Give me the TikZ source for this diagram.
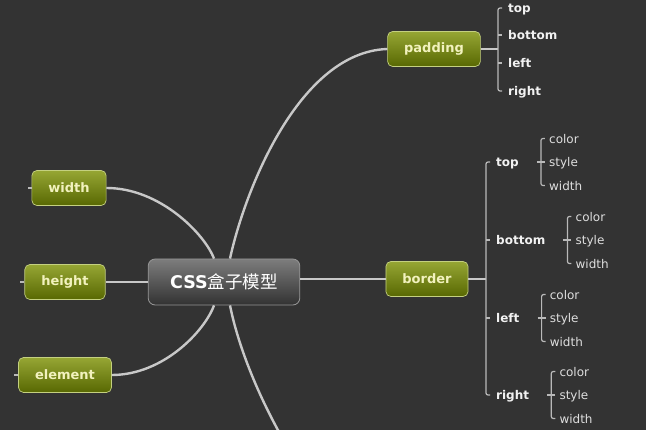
\documentclass[tikz,border=0pt]{standalone}
\usepackage{fontspec}
\setmainfont{DejaVu Sans}
\newfontfamily\cjk{Noto Sans CJK SC}
\usetikzlibrary{calc}

\definecolor{bgdark}{RGB}{51,51,51}
\definecolor{linkgray}{RGB}{200,200,200}
\definecolor{treegray}{RGB}{185,185,185}
\definecolor{leafgray}{RGB}{222,222,222}
\definecolor{olivetop}{RGB}{150,166,52}
\definecolor{olivebot}{RGB}{88,104,2}
\definecolor{olivebd}{RGB}{196,208,128}
\definecolor{olivetxt}{RGB}{242,242,190}
\definecolor{hubtop}{RGB}{125,125,125}
\definecolor{hubmid}{RGB}{72,72,72}
\definecolor{hubbot}{RGB}{50,50,50}
\definecolor{hubbd}{RGB}{150,150,150}

\tikzset{
  topic/.style={rounded corners=5pt, draw=olivebd, line width=0.7pt,
    top color=olivetop, bottom color=olivebot, text=olivetxt,
    font=\bfseries\fontsize{13}{15}\selectfont, minimum height=35pt, inner xsep=16.5pt},
  hub/.style={rounded corners=7pt, draw=hubbd, line width=0.8pt,
    top color=hubtop, middle color=hubmid, bottom color=hubbot, text=white,
    font=\fontsize{17.5}{21}\selectfont, minimum height=46pt, inner xsep=22pt},
  branch/.style={anchor=west, inner xsep=6pt, inner ysep=0pt, text height=11.5pt, text depth=1.5pt,
    text=white!95!black, font=\bfseries\fontsize{12}{14}\selectfont},
  leaf/.style={anchor=west, inner xsep=4pt, inner ysep=0pt, text height=11.5pt, text depth=1.5pt,
    text=leafgray, font=\fontsize{12}{14}\selectfont},
  link/.style={draw=linkgray, line width=2.4pt},
  flat/.style={draw=linkgray, line width=1.4pt},
  tree/.style={draw=treegray, line width=1.2pt},
}

\begin{document}
\begin{tikzpicture}[x=1pt, y=-1pt]  % 按像素坐标作图
    % 背景
    \useasboundingbox (0,0) rectangle (646,430);
    \fill[bgdark] (0,0) rectangle (646,430);

    % 中心主题和一级分支
    \node[hub] (hub) at (224,282) {{\bfseries CSS}{\cjk 盒子模型}};
    \node[topic] (wd) at (69,188) {width};
    \node[topic] (ht) at (65,282) {height};
    \node[topic] (el) at (65,375) {element};
    \node[topic] (pad) at (434,49) {padding};
    \node[topic] (bd) at (427,279) {border};

    % 中心到分支的连线
    \draw[link] (wd.east) .. controls +(54,0) and +(-9,-24) .. ($(hub.north)+(-10,0)$);
    \draw[link] (el.east) .. controls +(52,0) and +(-9,25) .. ($(hub.south)+(-10,0)$);
    \draw[link] ($(hub.north)+(6,0)$) .. controls +(15,-69) and +(-88,3) .. (pad.west);
    \coordinate (down-end) at (279,432);
    \draw[link] ($(hub.south)+(6,0)$) .. controls +(8,40) and +(-22,-40) .. (down-end);
    \draw[flat] (ht.east) -- (hub.west);
    \draw[flat] (hub.east |- bd.west) -- (bd.west);

    % 左侧分支的折叠标记
    \foreach \n in {wd,ht,el}
        \draw[tree] (\n.west) -- ++(-4,0);

    % padding 的子项
    \coordinate (pd-c) at (498,49);
    \draw[flat] (pad.east) -- (pd-c);
    \foreach \name/\yy in {top/8,bottom/35,left/63,right/91}
        \node[branch] (pd-\name) at (502,\yy) {\name};
    \draw[tree, rounded corners=2pt] (pd-top.west) -| (pd-c) |- (pd-right.west);
    \foreach \name in {bottom,left}
        \draw[tree] (pd-c |- pd-\name.west) -- (pd-\name.west);

    % border 的子项及其 color/style/width
    \coordinate (bd-c) at (486,279);
    \draw[flat] (bd.east) -- (bd-c);
    \foreach \name/\yy in {top/162,bottom/240,left/318,right/395} {
        \node[branch] (bd-\name) at (490,\yy) {\name};
        \coordinate (bd-\name-s) at ($(bd-\name.east)+(12,0)$);
        \coordinate (bd-\name-c) at ($(bd-\name.east)+(16,0)$);
        \draw[tree] (bd-\name-s) -- (bd-\name-c);
        \foreach \leaf/\dy in {color/-23.5,style/0,width/23.5}
            \node[leaf] (bd-\name-\leaf) at ($(bd-\name-c)+(4,\dy)$) {\leaf};
        \draw[tree, rounded corners=2pt] (bd-\name-color.west) -| (bd-\name-c) |- (bd-\name-width.west);
        \draw[tree] (bd-\name-c) -- (bd-\name-style.west);
    }
    \draw[tree, rounded corners=2pt] (bd-top.west) -| (bd-c) |- (bd-right.west);
    \foreach \name in {bottom,left}
        \draw[tree] (bd-c |- bd-\name.west) -- (bd-\name.west);
\end{tikzpicture}
\end{document}
